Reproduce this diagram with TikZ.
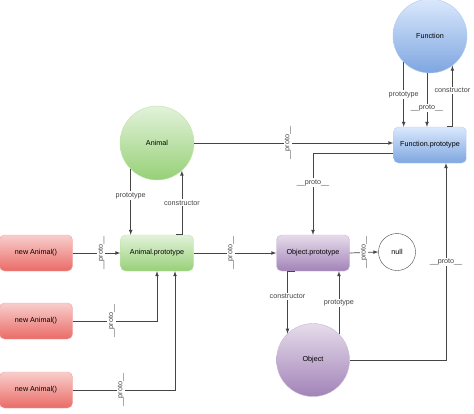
\documentclass[tikz,border=0pt]{standalone}
\usepackage{fontspec}
\setmainfont{Liberation Sans}
\usepackage{tikz}
\usetikzlibrary{positioning}
\usetikzlibrary{arrows}

\definecolor{linegray}{HTML}{454545}
\definecolor{functop}{HTML}{DAE8FC}
\definecolor{funcbot}{HTML}{7EA6E0}
\definecolor{animaltop}{HTML}{E2F2DA}
\definecolor{animalbot}{HTML}{97D077}
\definecolor{newtop}{HTML}{F8CECC}
\definecolor{newbot}{HTML}{EA6B66}
\definecolor{objtop}{HTML}{E6DCEB}
\definecolor{objbot}{HTML}{A283B8}

\tikzset{
  box/.style={rounded corners=5pt, minimum width=73pt, minimum height=36pt, inner sep=1pt},
  ring/.style={circle, inner sep=1pt},
  func/.style={top color=functop, bottom color=funcbot, draw=funcbot!60},
  animal/.style={top color=animaltop, bottom color=animalbot, draw=animalbot!60},
  newobj/.style={top color=newtop, bottom color=newbot, draw=newbot!60},
  obj/.style={top color=objtop, bottom color=objbot, draw=objbot!60},
  conn/.style={->, draw=linegray, line width=0.7pt},
  lbl/.style={fill=white, inner sep=1pt, font=\fontsize{7.2}{8}\selectfont, text=linegray},
  rlbl/.style={lbl, rotate=90}
}

\begin{document}
\begin{tikzpicture}[x=1pt, y=-1pt, >=latex, font=\fontsize{7.2}{8.5}\selectfont]
  \useasboundingbox (0,0) rectangle (474,413);
  \node[ring, func, minimum size=74pt] (fn) at (430,36) {Function};
  \node[box, func] (fp) at (430,145) {Function.prototype};
  \node[ring, animal, minimum size=74pt] (an) at (157,143) {Animal};
  \node[box, animal] (ap) at (157,253) {Animal.prototype};
  \node[box, obj] (op) at (313,253) {Object.prototype};
  \node[ring, draw=linegray, minimum size=37pt] (nul) at (397,252) {null};
  \node[ring, obj, minimum size=73pt] (ob) at (313,360) {Object};
  \node[box, newobj] (n1) at (36,253) {new Animal()};
  \node[box, newobj] (n2) at (36,321) {new Animal()};
  \node[box, newobj] (n3) at (36,390) {new Animal()};

  \draw[conn] (fn.south west) -- (fn.south west |- fp.north) node[lbl, midway] {prototype};
  \draw[conn] ([xshift=-3pt]fn.south) -- ([xshift=-3pt]fp.north) node[lbl, pos=0.65] {\_\_proto\_\_};
  \draw[conn] ([xshift=17pt]fp.north) -| (fn.-53) node[lbl, pos=0.8] {constructor};

  \draw[conn] (an.east) -- (an.east -| fp.west) node[rlbl, pos=0.47] {\_\_proto\_\_};
  \draw[conn] (an.south west) -- (an.south west |- ap.north) node[lbl, pos=0.4] {prototype};
  \draw[conn] ([xshift=19pt]ap.north) -| (an.-48) node[lbl, pos=0.75] {constructor};

  \draw[conn] (ap.east) -- (op.west) node[rlbl, pos=0.45] {\_\_proto\_\_};
  \draw[conn] (op.east) -- (nul.west) node[rlbl, midway] {\_\_proto\_\_};
  \draw[conn] ([yshift=-8pt]fp.west) -| (op.north) node[lbl, pos=0.68] {\_\_proto\_\_};
  \draw[conn] ([xshift=-18pt]op.south) -| (ob.134) node[lbl, pos=0.7] {constructor};
  \draw[conn] (ob.north east) -- (ob.north east |- op.south) node[lbl, midway] {prototype};
  \draw[conn] (ob.east) -| ([xshift=16pt]fp.south) node[lbl, pos=0.75] {\_\_proto\_\_};

  \draw[conn] (n1.east) -- (ap.west) node[rlbl, pos=0.6] {\_\_proto\_\_};
  \draw[conn] (n2.east) -| (ap.south) node[rlbl, pos=0.23] {\_\_proto\_\_};
  \draw[conn] (n3.east) -| ([xshift=18pt]ap.south) node[rlbl, pos=0.235] {\_\_proto\_\_};
\end{tikzpicture}
\end{document}
